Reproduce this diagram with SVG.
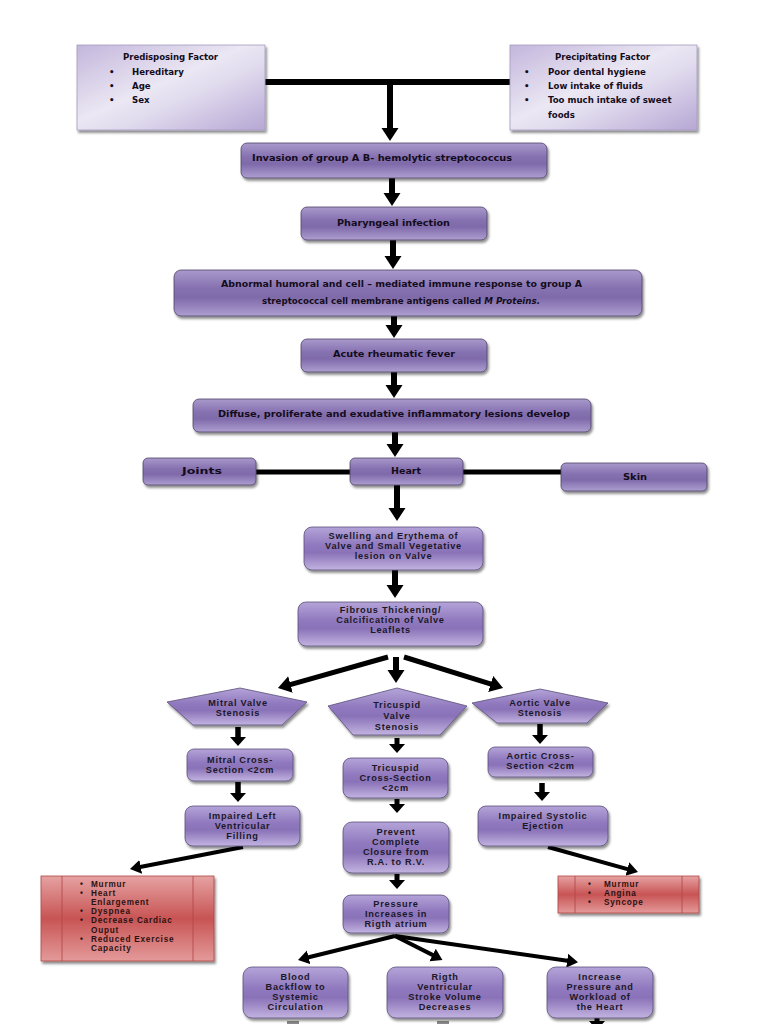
<svg xmlns="http://www.w3.org/2000/svg" width="768" height="1024" viewBox="0 0 768 1024">
<defs>
<linearGradient id="fg" x1="0" y1="0" x2="1" y2="1">
<stop offset="0" stop-color="#c3b6dc"/><stop offset="0.45" stop-color="#ebe7f3"/><stop offset="0.6" stop-color="#e1dbee"/><stop offset="1" stop-color="#b6a7d4"/>
</linearGradient>
<linearGradient id="pgU" x1="0" y1="0" x2="0" y2="1">
<stop offset="0" stop-color="#a999cb"/><stop offset="0.4" stop-color="#8571b0"/><stop offset="0.6" stop-color="#7f6aaa"/><stop offset="1" stop-color="#ad9ed0"/>
</linearGradient>
<linearGradient id="pgL" x1="0" y1="0" x2="0" y2="1">
<stop offset="0" stop-color="#b4a4d8"/><stop offset="0.42" stop-color="#9079be"/><stop offset="0.6" stop-color="#8a72b8"/><stop offset="1" stop-color="#c2b3e0"/>
</linearGradient>
<linearGradient id="rg" x1="0" y1="0" x2="0" y2="1">
<stop offset="0" stop-color="#e6a2a2"/><stop offset="0.5" stop-color="#c85454"/><stop offset="1" stop-color="#e49a9a"/>
</linearGradient>
<filter id="sh" x="-10%" y="-15%" width="125%" height="150%">
<feDropShadow dx="1.5" dy="2.5" stdDeviation="1.2" flood-color="#000" flood-opacity="0.45"/>
</filter>
<marker id="ab" markerUnits="userSpaceOnUse" markerWidth="14" markerHeight="18" refX="3" refY="8.5" orient="auto">
<path d="M0,0 L13,8.5 L0,17 z" fill="#000"/>
</marker>
<marker id="am" markerUnits="userSpaceOnUse" markerWidth="12" markerHeight="15" refX="2" refY="7" orient="auto">
<path d="M0,0 L11,7 L0,14 z" fill="#000"/>
</marker>
<marker id="as" markerUnits="userSpaceOnUse" markerWidth="10" markerHeight="17" refX="2" refY="8" orient="auto">
<path d="M0,0 L9,8 L0,16 z" fill="#000"/>
</marker>
</defs>
<style>
.fbox{fill:url(#fg);stroke:#a59cbd;stroke-width:0.8;filter:url(#sh)}
.ub{fill:url(#pgU);stroke:#4e4466;stroke-width:0.8;filter:url(#sh)}
.lb{fill:url(#pgL);stroke:#5a4f78;stroke-width:0.8;filter:url(#sh)}
.rb{fill:url(#rg);stroke:#b04444;stroke-width:0.8;filter:url(#sh)}
.rl{stroke:#b04444;stroke-width:0.8}
.ut{font-family:"DejaVu Sans","Liberation Sans",sans-serif;font-weight:bold;font-size:8.6px;fill:#140c1c}
.lt{font-family:"Liberation Sans",Arial,sans-serif;font-weight:bold;font-size:9.2px;letter-spacing:0.75px;fill:#1c1828;text-anchor:middle}
.rt{font-family:"Liberation Sans",Arial,sans-serif;font-weight:bold;font-size:8.2px;letter-spacing:0.8px;fill:#2a1212}
.c{text-anchor:middle}
.bar{stroke:#000;fill:none}
</style>

<g id="connectors">
<line class="bar" x1="265" y1="82" x2="510" y2="82" stroke-width="6"/>
<line class="bar" x1="390" y1="82" x2="390" y2="131" stroke-width="6" marker-end="url(#ab)"/>
<line class="bar" x1="392" y1="178" x2="392" y2="196" stroke-width="6" marker-end="url(#ab)"/>
<line class="bar" x1="393" y1="240" x2="393" y2="259" stroke-width="6" marker-end="url(#ab)"/>
<line class="bar" x1="394" y1="316" x2="394" y2="328" stroke-width="6" marker-end="url(#ab)"/>
<line class="bar" x1="394" y1="372" x2="394" y2="388" stroke-width="6" marker-end="url(#ab)"/>
<line class="bar" x1="395" y1="432" x2="395" y2="447" stroke-width="6" marker-end="url(#ab)"/>
<line class="bar" x1="256" y1="472" x2="350" y2="472" stroke-width="5"/>
<line class="bar" x1="463" y1="472" x2="561" y2="472" stroke-width="5"/>
<line class="bar" x1="397" y1="485" x2="397" y2="511" stroke-width="6" marker-end="url(#ab)"/>
<line class="bar" x1="395" y1="570" x2="395" y2="588" stroke-width="6" marker-end="url(#ab)"/>
<line class="bar" x1="396" y1="657" x2="396" y2="673" stroke-width="6" marker-end="url(#ab)"/>
<line class="bar" x1="388" y1="657" x2="287.6" y2="685.3" stroke-width="5" marker-end="url(#ab)"/>
<line class="bar" x1="404" y1="657" x2="493.5" y2="684.9" stroke-width="5" marker-end="url(#ab)"/>
<line class="bar" x1="238" y1="727" x2="238" y2="739" stroke-width="5.5" marker-end="url(#as)"/>
<line class="bar" x1="238" y1="782" x2="238" y2="795" stroke-width="5.5" marker-end="url(#as)"/>
<line class="bar" x1="397" y1="738" x2="397" y2="746" stroke-width="5" marker-end="url(#as)"/>
<line class="bar" x1="397" y1="799" x2="397" y2="806" stroke-width="5" marker-end="url(#as)"/>
<line class="bar" x1="397" y1="874" x2="397" y2="882" stroke-width="5" marker-end="url(#as)"/>
<line class="bar" x1="540" y1="724" x2="540" y2="737" stroke-width="5.5" marker-end="url(#as)"/>
<line class="bar" x1="542" y1="783" x2="542" y2="794" stroke-width="5.5" marker-end="url(#as)"/>
<line class="bar" x1="243" y1="847" x2="138.8" y2="867.3" stroke-width="4" marker-end="url(#am)"/>
<line class="bar" x1="548" y1="847" x2="629.3" y2="869.6" stroke-width="4" marker-end="url(#am)"/>
<line class="bar" x1="395" y1="936" x2="306.7" y2="957.8" stroke-width="4" marker-end="url(#am)"/>
<line class="bar" x1="395" y1="936" x2="434.4" y2="955.9" stroke-width="4" marker-end="url(#am)"/>
<line class="bar" x1="395" y1="936" x2="569.1" y2="961.0" stroke-width="4" marker-end="url(#am)"/>
<rect x="287" y="1021" width="12" height="3" fill="#8a8a8a"/>
<rect x="437" y="1021" width="12" height="3" fill="#8a8a8a"/>
<line class="bar" x1="597" y1="1017" x2="597" y2="1024" stroke-width="5"/>
<polygon points="589,1021 605,1021 597,1030" fill="#000"/>
</g>

<g id="predisposing">
<rect class="fbox" x="77" y="45" width="188" height="85"/>
<text class="ut c" x="170.5" y="60" textLength="95" lengthAdjust="spacing">Predisposing Factor</text>
<text class="ut" font-size="8"><tspan x="109" y="75">•</tspan><tspan x="109" y="89">•</tspan><tspan x="109" y="103">•</tspan></text>
<text class="ut"><tspan x="132" y="75">Hereditary</tspan><tspan x="132" y="89">Age</tspan><tspan x="132" y="103">Sex</tspan></text>
</g>

<g id="precipitating">
<rect class="fbox" x="510" y="45" width="187" height="85"/>
<text class="ut c" x="602.5" y="60" textLength="95" lengthAdjust="spacing">Precipitating Factor</text>
<text class="ut" font-size="8"><tspan x="524" y="75">•</tspan><tspan x="524" y="89">•</tspan><tspan x="524" y="103">•</tspan></text>
<text class="ut"><tspan x="548" y="75">Poor dental hygiene</tspan><tspan x="548" y="89">Low intake of fluids</tspan><tspan x="548" y="103">Too much intake of sweet</tspan><tspan x="548" y="118">foods</tspan></text>
</g>

<g id="invasion">
<rect class="ub" x="241" y="143" width="306" height="35" rx="6"/>
<text class="ut" x="252" y="161" textLength="260" lengthAdjust="spacingAndGlyphs">Invasion of group A B- hemolytic streptococcus</text>
</g>

<g id="pharyngeal">
<rect class="ub" x="301" y="207" width="186" height="33" rx="6"/>
<text class="ut c" x="393.5" y="226" textLength="113" lengthAdjust="spacingAndGlyphs">Pharyngeal infection</text>
</g>

<g id="abnormal">
<rect class="ub" x="174" y="270" width="468" height="46" rx="7"/>
<text class="ut c" x="401.5" y="287" textLength="361" lengthAdjust="spacingAndGlyphs">Abnormal humoral and cell – mediated immune response to group A</text>
<text class="ut c" x="401" y="304" textLength="278" lengthAdjust="spacingAndGlyphs">streptococcal cell membrane antigens called <tspan font-style="italic">M Proteins.</tspan></text>
</g>

<g id="acute">
<rect class="ub" x="301" y="339" width="186" height="33" rx="6"/>
<text class="ut c" x="394" y="357" textLength="122" lengthAdjust="spacingAndGlyphs">Acute rheumatic fever</text>
</g>

<g id="diffuse">
<rect class="ub" x="193" y="399" width="398" height="33" rx="6"/>
<text class="ut c" x="394" y="417" textLength="352" lengthAdjust="spacingAndGlyphs">Diffuse, proliferate and exudative inflammatory lesions develop</text>
</g>

<g id="joints">
<rect class="ub" x="143" y="458" width="113" height="27" rx="5"/>
<text class="ut c" x="202" y="474" textLength="40" lengthAdjust="spacingAndGlyphs">Joints</text>
</g>

<g id="heart">
<rect class="ub" x="350" y="458" width="113" height="27" rx="5"/>
<text class="ut c" x="406" y="474" textLength="30" lengthAdjust="spacingAndGlyphs">Heart</text>
</g>

<g id="skin">
<rect class="ub" x="561" y="463" width="146" height="28" rx="5"/>
<text class="ut c" x="635" y="480" textLength="24" lengthAdjust="spacingAndGlyphs">Skin</text>
</g>

<g id="swelling">
<rect class="lb" x="304" y="527" width="179" height="43" rx="8"/>
<text class="lt"><tspan x="393.5" y="538.5">Swelling and Erythema of</tspan><tspan x="393.5" y="548.8">Valve and Small Vegetative</tspan><tspan x="393.5" y="559.1">lesion on Valve</tspan></text>
</g>

<g id="fibrous">
<rect class="lb" x="298" y="602" width="185" height="44" rx="8"/>
<text class="lt"><tspan x="390.5" y="612.5">Fibrous Thickening/</tspan><tspan x="390.5" y="622.8">Calcification of Valve</tspan><tspan x="390.5" y="633.1">Leaflets</tspan></text>
</g>

<g id="mitral-valve">
<polygon class="lb" points="240,688 307,702 282,725 193,725 167,702"/>
<text class="lt"><tspan x="238" y="705.5">Mitral Valve</tspan><tspan x="238" y="716">Stenosis</tspan></text>
</g>

<g id="tricuspid-valve">
<polygon class="lb" points="397,688 467,706 440,735 353,735 328,706"/>
<text class="lt"><tspan x="397" y="708">Tricuspid</tspan><tspan x="397" y="719">Valve</tspan><tspan x="397" y="730">Stenosis</tspan></text>
</g>

<g id="aortic-valve">
<polygon class="lb" points="540,689 608,703 587,723 497,723 472,703"/>
<text class="lt"><tspan x="540" y="705.5">Aortic Valve</tspan><tspan x="540" y="716">Stenosis</tspan></text>
</g>

<g id="mitral-cross">
<rect class="lb" x="187" y="749" width="106" height="32" rx="7"/>
<text class="lt"><tspan x="240" y="762.5">Mitral Cross-</tspan><tspan x="240" y="772.8">Section &lt;2cm</tspan></text>
</g>

<g id="impaired-left">
<rect class="lb" x="185" y="806" width="115" height="40" rx="8"/>
<text class="lt"><tspan x="242.5" y="818.5">Impaired Left</tspan><tspan x="242.5" y="828.8">Ventricular</tspan><tspan x="242.5" y="839.1">Filling</tspan></text>
</g>

<g id="tricuspid-cross">
<rect class="lb" x="343" y="758" width="105" height="40" rx="8"/>
<text class="lt"><tspan x="395.5" y="770.5">Tricuspid</tspan><tspan x="395.5" y="780.8">Cross-Section</tspan><tspan x="395.5" y="791.1">&lt;2cm</tspan></text>
</g>

<g id="prevent">
<rect class="lb" x="343" y="822" width="106" height="51" rx="9"/>
<text class="lt"><tspan x="396" y="834.5">Prevent</tspan><tspan x="396" y="844.8">Complete</tspan><tspan x="396" y="855.1">Closure from</tspan><tspan x="396" y="865.4">R.A. to R.V.</tspan></text>
</g>

<g id="pressure">
<rect class="lb" x="343" y="895" width="106" height="38" rx="8"/>
<text class="lt"><tspan x="396" y="906.5">Pressure</tspan><tspan x="396" y="916.8">Increases in</tspan><tspan x="396" y="927.1">Rigth atrium</tspan></text>
</g>

<g id="aortic-cross">
<rect class="lb" x="488" y="747" width="105" height="30" rx="7"/>
<text class="lt"><tspan x="540.5" y="758.5">Aortic Cross-</tspan><tspan x="540.5" y="768.8">Section &lt;2cm</tspan></text>
</g>

<g id="impaired-systolic">
<rect class="lb" x="478" y="806" width="130" height="40" rx="8"/>
<text class="lt"><tspan x="543" y="818.5">Impaired Systolic</tspan><tspan x="543" y="829">Ejection</tspan></text>
</g>

<g id="mitral-symptoms">
<rect class="rb" x="41" y="876" width="173" height="85"/>
<line class="rl" x1="62" y1="876" x2="62" y2="961"/>
<line class="rl" x1="193" y1="876" x2="193" y2="961"/>
<text class="rt"><tspan x="80" y="886.5">•</tspan><tspan x="80" y="895.7">•</tspan><tspan x="80" y="914.1">•</tspan><tspan x="80" y="923.3">•</tspan><tspan x="80" y="941.7">•</tspan></text>
<text class="rt"><tspan x="91" y="886.5">Murmur</tspan><tspan x="91" y="895.7">Heart</tspan><tspan x="91" y="904.9">Enlargement</tspan><tspan x="91" y="914.1">Dyspnea</tspan><tspan x="91" y="923.3">Decrease Cardiac</tspan><tspan x="91" y="932.5">Ouput</tspan><tspan x="91" y="941.7">Reduced Exercise</tspan><tspan x="91" y="950.9">Capacity</tspan></text>
</g>

<g id="aortic-symptoms">
<rect class="rb" x="558" y="876" width="141" height="37"/>
<line class="rl" x1="575" y1="876" x2="575" y2="913"/>
<line class="rl" x1="682" y1="876" x2="682" y2="913"/>
<text class="rt"><tspan x="588" y="886.5">•</tspan><tspan x="588" y="895.7">•</tspan><tspan x="588" y="904.9">•</tspan></text>
<text class="rt"><tspan x="604" y="886.5">Murmur</tspan><tspan x="604" y="895.7">Angina</tspan><tspan x="604" y="904.9">Syncope</tspan></text>
</g>

<g id="blood-backflow">
<rect class="lb" x="243" y="967" width="105" height="51" rx="9"/>
<text class="lt"><tspan x="295.5" y="979.5">Blood</tspan><tspan x="295.5" y="989.8">Backflow to</tspan><tspan x="295.5" y="1000.1">Systemic</tspan><tspan x="295.5" y="1010.4">Circulation</tspan></text>
</g>

<g id="stroke-volume">
<rect class="lb" x="387" y="967" width="116" height="51" rx="9"/>
<text class="lt"><tspan x="445" y="979.5">Rigth</tspan><tspan x="445" y="989.8">Ventricular</tspan><tspan x="445" y="1000.1">Stroke Volume</tspan><tspan x="445" y="1010.4">Decreases</tspan></text>
</g>

<g id="workload">
<rect class="lb" x="547" y="967" width="106" height="51" rx="9"/>
<text class="lt"><tspan x="600" y="979.5">Increase</tspan><tspan x="600" y="989.8">Pressure and</tspan><tspan x="600" y="1000.1">Workload of</tspan><tspan x="600" y="1010.4">the Heart</tspan></text>
</g>
</svg>
